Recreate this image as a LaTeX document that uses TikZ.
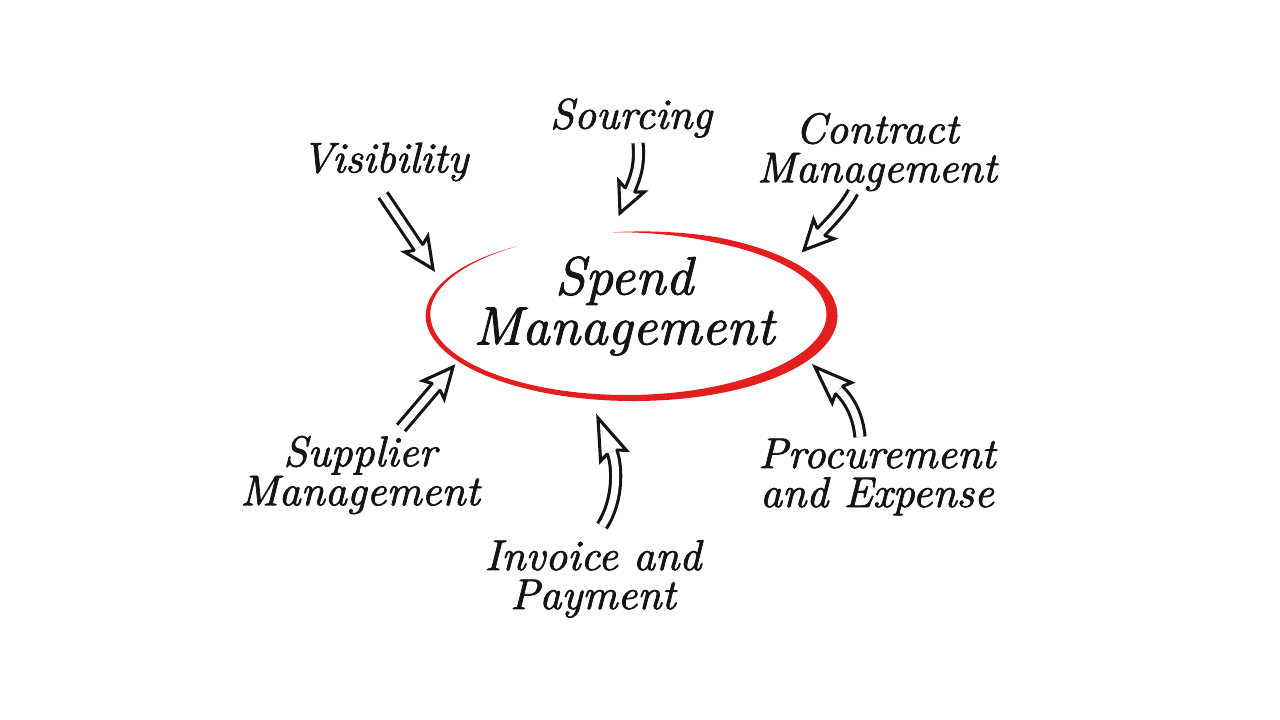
\documentclass[tikz,border=0pt]{standalone}
\usepackage{fontspec}
\usetikzlibrary{calc}
\newfontface\hand{lmroman10-italic.otf}[RawFeature={embolden=1.6}]
\definecolor{penred}{RGB}{226,30,30}
\definecolor{ink}{RGB}{20,20,20}
\newcommand\fatarrow[4]{% tail, ctrl, back, tip
  \coordinate (#3bb) at ($(#3)!-4pt!(#4)$);
  \draw[shaft] (#1) .. controls (#2) and ($(#3)!-14pt!(#4)$) .. (#3);
  \draw[head] ($(#3)!5.2pt!90:(#4)$) -- ($(#3bb)!14pt!90:(#4)$) -- (#4)
     -- ($(#3bb)!14pt!-90:(#4)$) -- ($(#3)!5.2pt!-90:(#4)$);
}
\begin{document}
\begin{tikzpicture}[x=1pt,y=-1pt,
  lbl/.style={font=\fontsize{43}{39}\hand, align=center, inner sep=0pt, text=ink},
  big/.style={font=\fontsize{54}{50}\hand, align=center, inner sep=0pt, text=ink},
  shaft/.style={draw=ink, double=white, double distance=7pt, line width=3.1pt},
  head/.style={draw=ink, line width=3.1pt, line join=miter, line cap=round},
  declare function={W(\t)=min(1,(95-\t)/30,(\t+236)/60)*(5+6.5*exp(-((\t+15)/55)*((\t+15)/55)));}]
\useasboundingbox (0,0) rectangle (1280,720);
\fill[white] (0,0) rectangle (1280,720);

% red ellipse
\fill[penred] plot[domain=95:-236, samples=180] ({630+(202+0.5*W(\x))*cos(\x)}, {315-(83+0.5*W(\x))*sin(\x)})
  -- plot[domain=-236:95, samples=180] ({630+(202-0.5*W(\x))*cos(\x)}, {315-(83-0.5*W(\x))*sin(\x)}) -- cycle;

% labels
\node[big] (spd) at (624,306) {Spend\\Management};
\node[lbl] (vis) at (385,162) {Visibility};
\node[lbl] (src) at (631,118) {Sourcing};
\node[lbl] (con) at (877,152) {Contract\\Management};
\node[lbl] (sup) at (360,475) {Supplier\\Management};
\node[lbl] (inv) at (593,579) {Invoice and\\Payment};
\node[lbl] (pro) at (877,477) {Procurement\\and Expense};

% arrows
\coordinate (a1t) at (383,195); \coordinate (a1p) at (433,269);
\coordinate (a1b) at ($(a1p)!26pt!(a1t)$);
\fatarrow{a1t}{a1t}{a1b}{a1p}

\coordinate (a2t) at (638,143); \coordinate (a2c) at (640,165);
\coordinate (a2b) at (630,190); \coordinate (a2p) at (620,213);
\fatarrow{a2t}{a2c}{a2b}{a2p}

\coordinate (a3t) at (853,192); \coordinate (a3c) at (846,206);
\coordinate (a3b) at (821,232); \coordinate (a3p) at (804,250);
\fatarrow{a3t}{a3c}{a3b}{a3p}

\coordinate (a4t) at (401,428); \coordinate (a4p) at (453,367);
\coordinate (a4b) at ($(a4p)!26pt!(a4t)$);
\fatarrow{a4t}{a4t}{a4b}{a4p}

\coordinate (a5t) at (602,526); \coordinate (a5c) at (619,500);
\coordinate (a5b) at (612,452); \coordinate (a5p) at (598,418);
\fatarrow{a5t}{a5c}{a5b}{a5p}

\coordinate (a6t) at (860,437); \coordinate (a6c) at (858,415);
\coordinate (a6b) at (839,390); \coordinate (a6p) at (815,367);
\fatarrow{a6t}{a6c}{a6b}{a6p}
\end{tikzpicture}
\end{document}
